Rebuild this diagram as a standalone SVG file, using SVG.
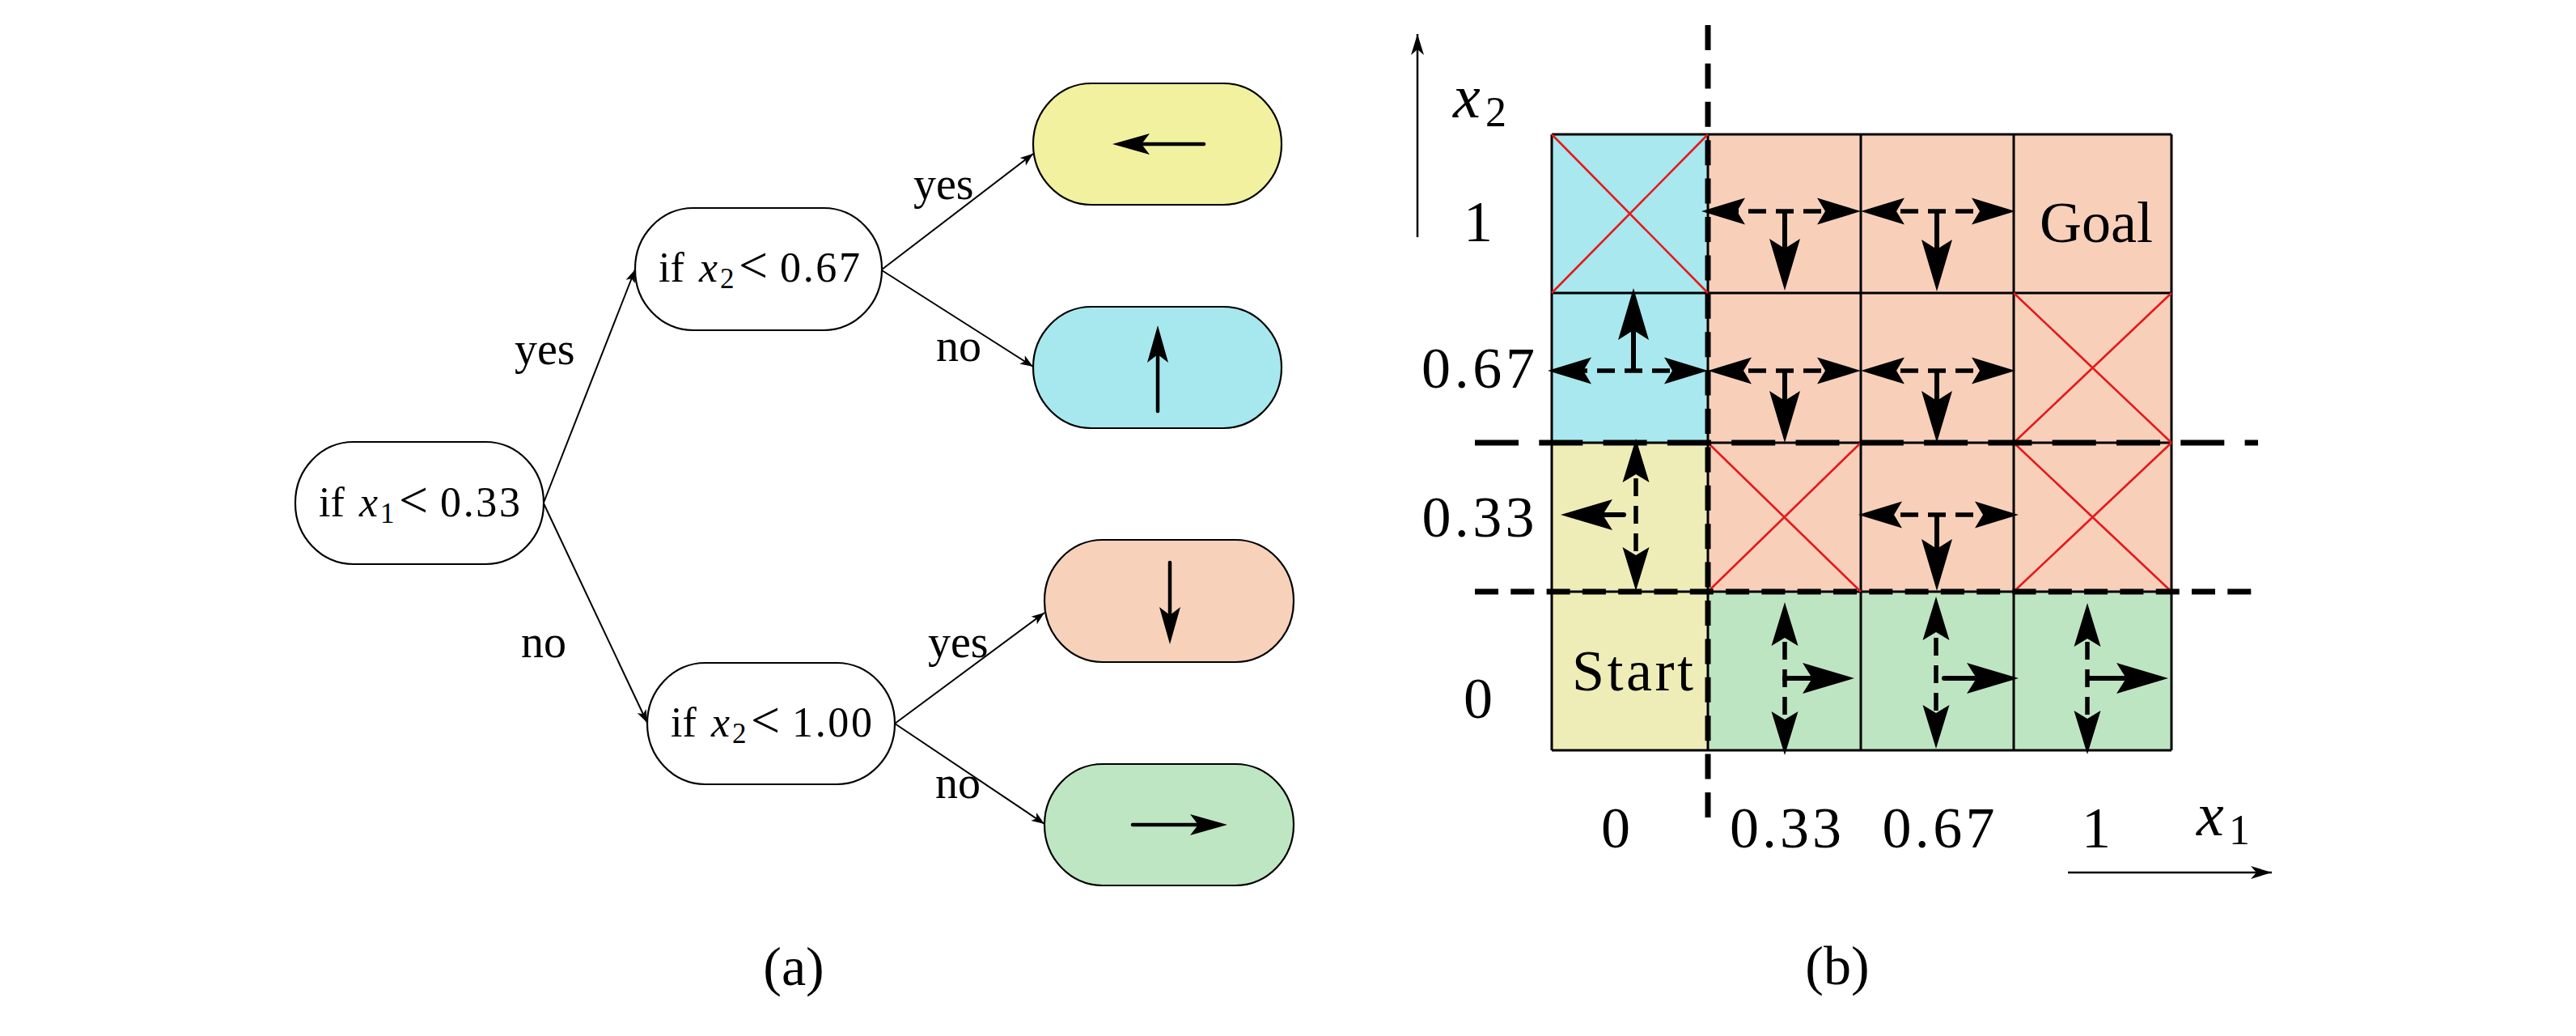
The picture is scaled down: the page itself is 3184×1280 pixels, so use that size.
<svg xmlns="http://www.w3.org/2000/svg" width="3184" height="1280" viewBox="0 0 3184 1280">
<style>
 text { font-family: "Liberation Serif", "DejaVu Serif", serif; fill: #000; }
 .node { stroke: #000; stroke-width: 2.2; }
 .edge { stroke: #000; stroke-width: 2; fill: none; marker-end: url(#tipSmall); }
 .lbl { font-size: 56px; }
 .ntx { font-size: 52px; }
 .lt { font-size: 64px; }
 .sub { font-size: 35px; }
 .it { font-style: italic; }
 .leafArrow { stroke: #000; stroke-width: 4.5; fill: none; stroke-linecap: round; marker-end: url(#headLeaf); }
 .gl { stroke: #000; stroke-width: 3; fill: none; }
 .rx { stroke: #e41a1c; stroke-width: 2.6; }
 .thr { stroke: #000; stroke-width: 7; fill: none; }
 .dsh { stroke: #000; stroke-width: 5.5; fill: none; stroke-dasharray: 22 12; stroke-dashoffset: 11; marker-end: url(#headD); }
 .sol { stroke: #000; stroke-width: 6; fill: none; marker-end: url(#headS); }
 .axis { stroke: #000; stroke-width: 2.5; fill: none; marker-end: url(#axisTip); }
 .tick { font-size: 72px; text-anchor: middle; }
 .big { font-size: 72px; }
 .cap { font-size: 68px; text-anchor: middle; }
</style>
<defs>
 <marker id="tipSmall" markerUnits="userSpaceOnUse" orient="auto" overflow="visible" refX="0" refY="0" markerWidth="1" markerHeight="1"><path d="M0,0 L-16,-6 L-12,0 L-16,6 Z"/></marker>
 <marker id="axisTip" markerUnits="userSpaceOnUse" orient="auto" overflow="visible" refX="0" refY="0" markerWidth="1" markerHeight="1"><path d="M0,0 L-26,-8 L-19,0 L-26,8 Z"/></marker>
 <marker id="headLeaf" markerUnits="userSpaceOnUse" orient="auto" overflow="visible" refX="0" refY="0" markerWidth="1" markerHeight="1"><path d="M36,0 L-10,-13 L0,0 L-10,13 Z"/></marker>
 <marker id="headD" markerUnits="userSpaceOnUse" orient="auto" overflow="visible" refX="0" refY="0" markerWidth="1" markerHeight="1"><path d="M44,0 L-10,-16.5 L0,0 L-10,16.5 Z"/></marker>
 <marker id="headS" markerUnits="userSpaceOnUse" orient="auto" overflow="visible" refX="0" refY="0" markerWidth="1" markerHeight="1"><path d="M52,0 L-12,-19 L0,0 L-12,19 Z"/></marker>
</defs>
<rect width="3184" height="1280" fill="#fff"/>

<!-- (a) decision tree -->
<g id="connectors">
 <line class="edge" x1="672" y1="621" x2="785" y2="333"/>
 <line class="edge" x1="672" y1="622" x2="800" y2="893"/>
 <line class="edge" x1="1090" y1="333" x2="1277" y2="190"/>
 <line class="edge" x1="1090" y1="334" x2="1277" y2="453"/>
 <line class="edge" x1="1106" y1="894" x2="1291" y2="757"/>
 <line class="edge" x1="1106" y1="894" x2="1291" y2="1018"/>
 <text class="lbl" x="636" y="450">yes</text>
 <text class="lbl" x="644" y="812">no</text>
 <text class="lbl" x="1129" y="246">yes</text>
 <text class="lbl" x="1157" y="446">no</text>
 <text class="lbl" x="1147" y="812">yes</text>
 <text class="lbl" x="1156" y="986">no</text>
</g>

<g id="node-root">
 <rect class="node" x="365" y="546" width="307" height="151" rx="72" ry="75" fill="#fff"/>
 <text class="ntx" x="394" y="638">if</text>
 <text class="ntx it" x="444" y="638">x</text>
 <text class="sub" x="470" y="646">1</text>
 <text class="lt" x="493" y="639">&lt;</text>
 <text class="ntx" x="544" y="638" textLength="99" lengthAdjust="spacing">0.33</text>
</g>
<g id="node-x2-067">
 <rect class="node" x="785" y="257" width="305" height="151" rx="72" ry="75" fill="#fff"/>
 <text class="ntx" x="814" y="348">if</text>
 <text class="ntx it" x="864" y="348">x</text>
 <text class="sub" x="890" y="356">2</text>
 <text class="lt" x="913" y="349">&lt;</text>
 <text class="ntx" x="964" y="348" textLength="99" lengthAdjust="spacing">0.67</text>
</g>
<g id="node-x2-100">
 <rect class="node" x="800" y="819" width="306" height="150" rx="72" ry="75" fill="#fff"/>
 <text class="ntx" x="829" y="910">if</text>
 <text class="ntx it" x="879" y="910">x</text>
 <text class="sub" x="905" y="918">2</text>
 <text class="lt" x="928" y="911">&lt;</text>
 <text class="ntx" x="979" y="910" textLength="99" lengthAdjust="spacing">1.00</text>
</g>
<g id="leaf-left">
 <rect class="node" x="1277" y="103" width="307" height="150" rx="72" ry="75" fill="#f1f19f"/>
 <line class="leafArrow" x1="1488" y1="178" x2="1411" y2="178"/>
</g>
<g id="leaf-up">
 <rect class="node" x="1277" y="379" width="307" height="150" rx="72" ry="75" fill="#a7e8ef"/>
 <line class="leafArrow" x1="1431" y1="508" x2="1431" y2="438"/>
</g>
<g id="leaf-down">
 <rect class="node" x="1291" y="667" width="308" height="151" rx="72" ry="75" fill="#f8d1bb"/>
 <line class="leafArrow" x1="1446" y1="695" x2="1446" y2="760"/>
</g>
<g id="leaf-right">
 <rect class="node" x="1291" y="944" width="308" height="150" rx="72" ry="75" fill="#bfe6c3"/>
 <line class="leafArrow" x1="1400" y1="1019" x2="1481" y2="1019"/>
</g>
<text class="cap" x="981" y="1217">(a)</text>

<!-- (b) grid world -->
<g id="grid">
 <rect x="1918" y="166" width="193" height="381" fill="#a8e8ee"/>
 <rect x="1918" y="547" width="193" height="380" fill="#efedb7"/>
 <rect x="2111" y="166" width="573" height="565" fill="#f8d0ba"/>
 <rect x="2111" y="731" width="573" height="196" fill="#bee5c2"/>
 <path class="gl" d="M1918,166 V927 M2111,166 V927 M2300,166 V927 M2489,166 V927 M2684,166 V927 M1918,166 H2684 M1918,362 H2684 M1918,547 H2684 M1918,731 H2684 M1918,927 H2684"/>
 <path class="rx" d="M1918,166 L2111,362 M2111,166 L1918,362 M2489,362 L2684,547 M2684,362 L2489,547 M2111,547 L2300,731 M2300,547 L2111,731 M2489,547 L2684,731 M2684,547 L2489,731"/>
 <text class="big" x="2521" y="299">Goal</text>
 <text class="big" x="1943" y="853" font-size="74" textLength="150" lengthAdjust="spacing">Start</text>
</g>

<g id="thresholds">
 <line class="thr" x1="2111" y1="31" x2="2111" y2="1010" stroke-dasharray="31 16.4"/>
 <line class="thr" x1="1823" y1="547" x2="2791" y2="547" stroke-dasharray="54 25.3"/>
 <line class="thr" x1="1823" y1="731" x2="2791" y2="731" stroke-dasharray="29 15.3"/>
</g>

<g id="policy-arrows">
 <!-- row x2=1 -->
 <line class="dsh" x1="2206" y1="261" x2="2147" y2="261"/>
 <line class="dsh" x1="2206" y1="261" x2="2256" y2="261"/>
 <line class="sol" x1="2206" y1="261" x2="2206" y2="307"/>
 <line class="dsh" x1="2394" y1="261" x2="2344" y2="261"/>
 <line class="dsh" x1="2394" y1="261" x2="2447" y2="261"/>
 <line class="sol" x1="2394" y1="261" x2="2394" y2="308"/>
 <!-- row x2=0.67 -->
 <line class="dsh" x1="2019" y1="458" x2="1957" y2="458"/>
 <line class="dsh" x1="2019" y1="458" x2="2067" y2="458"/>
 <line class="sol" x1="2019" y1="458" x2="2019" y2="408"/>
 <line class="dsh" x1="2206" y1="458" x2="2155" y2="458"/>
 <line class="dsh" x1="2206" y1="458" x2="2256" y2="458"/>
 <line class="sol" x1="2206" y1="458" x2="2206" y2="495"/>
 <line class="dsh" x1="2394" y1="458" x2="2344" y2="458"/>
 <line class="dsh" x1="2394" y1="458" x2="2447" y2="458"/>
 <line class="sol" x1="2394" y1="458" x2="2394" y2="495"/>
 <!-- row x2=0.33 -->
 <line class="dsh" x1="2022" y1="636" x2="2022" y2="586"/>
 <line class="dsh" x1="2022" y1="636" x2="2022" y2="686"/>
 <line class="sol" x1="2007" y1="636" x2="1981" y2="636" stroke-linecap="round"/>
 <line class="dsh" x1="2394" y1="636" x2="2341" y2="636"/>
 <line class="dsh" x1="2394" y1="636" x2="2451" y2="636"/>
 <line class="sol" x1="2394" y1="636" x2="2394" y2="678"/>
 <!-- row x2=0 -->
 <line class="dsh" x1="2206" y1="838" x2="2206" y2="788"/>
 <line class="dsh" x1="2206" y1="838" x2="2206" y2="889"/>
 <line class="sol" x1="2203" y1="838" x2="2240" y2="838"/>
 <line class="dsh" x1="2393" y1="833" x2="2393" y2="781"/>
 <line class="dsh" x1="2393" y1="833" x2="2393" y2="881"/>
 <line class="sol" x1="2403" y1="838" x2="2443" y2="838" stroke-linecap="round"/>
 <line class="dsh" x1="2580" y1="838" x2="2580" y2="789"/>
 <line class="dsh" x1="2580" y1="838" x2="2580" y2="888"/>
 <line class="sol" x1="2580" y1="838" x2="2628" y2="838"/>
</g>

<g id="axes">
 <line class="axis" x1="1752" y1="293" x2="1752" y2="42"/>
 <line class="axis" x1="2556" y1="1078" x2="2808" y2="1078"/>
 <text class="it" x="1796" y="145" font-size="76">x</text>
 <text x="1836" y="156" font-size="52">2</text>
 <text class="it" x="2715" y="1032" font-size="76">x</text>
 <text x="2755" y="1043" font-size="52">1</text>
 <text class="tick" x="1827" y="298">1</text>
 <text class="tick" x="1827" y="479" textLength="140" lengthAdjust="spacing">0.67</text>
 <text class="tick" x="1827" y="663" textLength="139" lengthAdjust="spacing">0.33</text>
 <text class="tick" x="1827" y="887">0</text>
 <text class="tick" x="1997" y="1047">0</text>
 <text class="tick" x="2207" y="1047" textLength="138" lengthAdjust="spacing">0.33</text>
 <text class="tick" x="2396" y="1047" textLength="139" lengthAdjust="spacing">0.67</text>
 <text class="tick" x="2591" y="1047">1</text>
</g>
<text class="cap" x="2271" y="1216">(b)</text>
</svg>
